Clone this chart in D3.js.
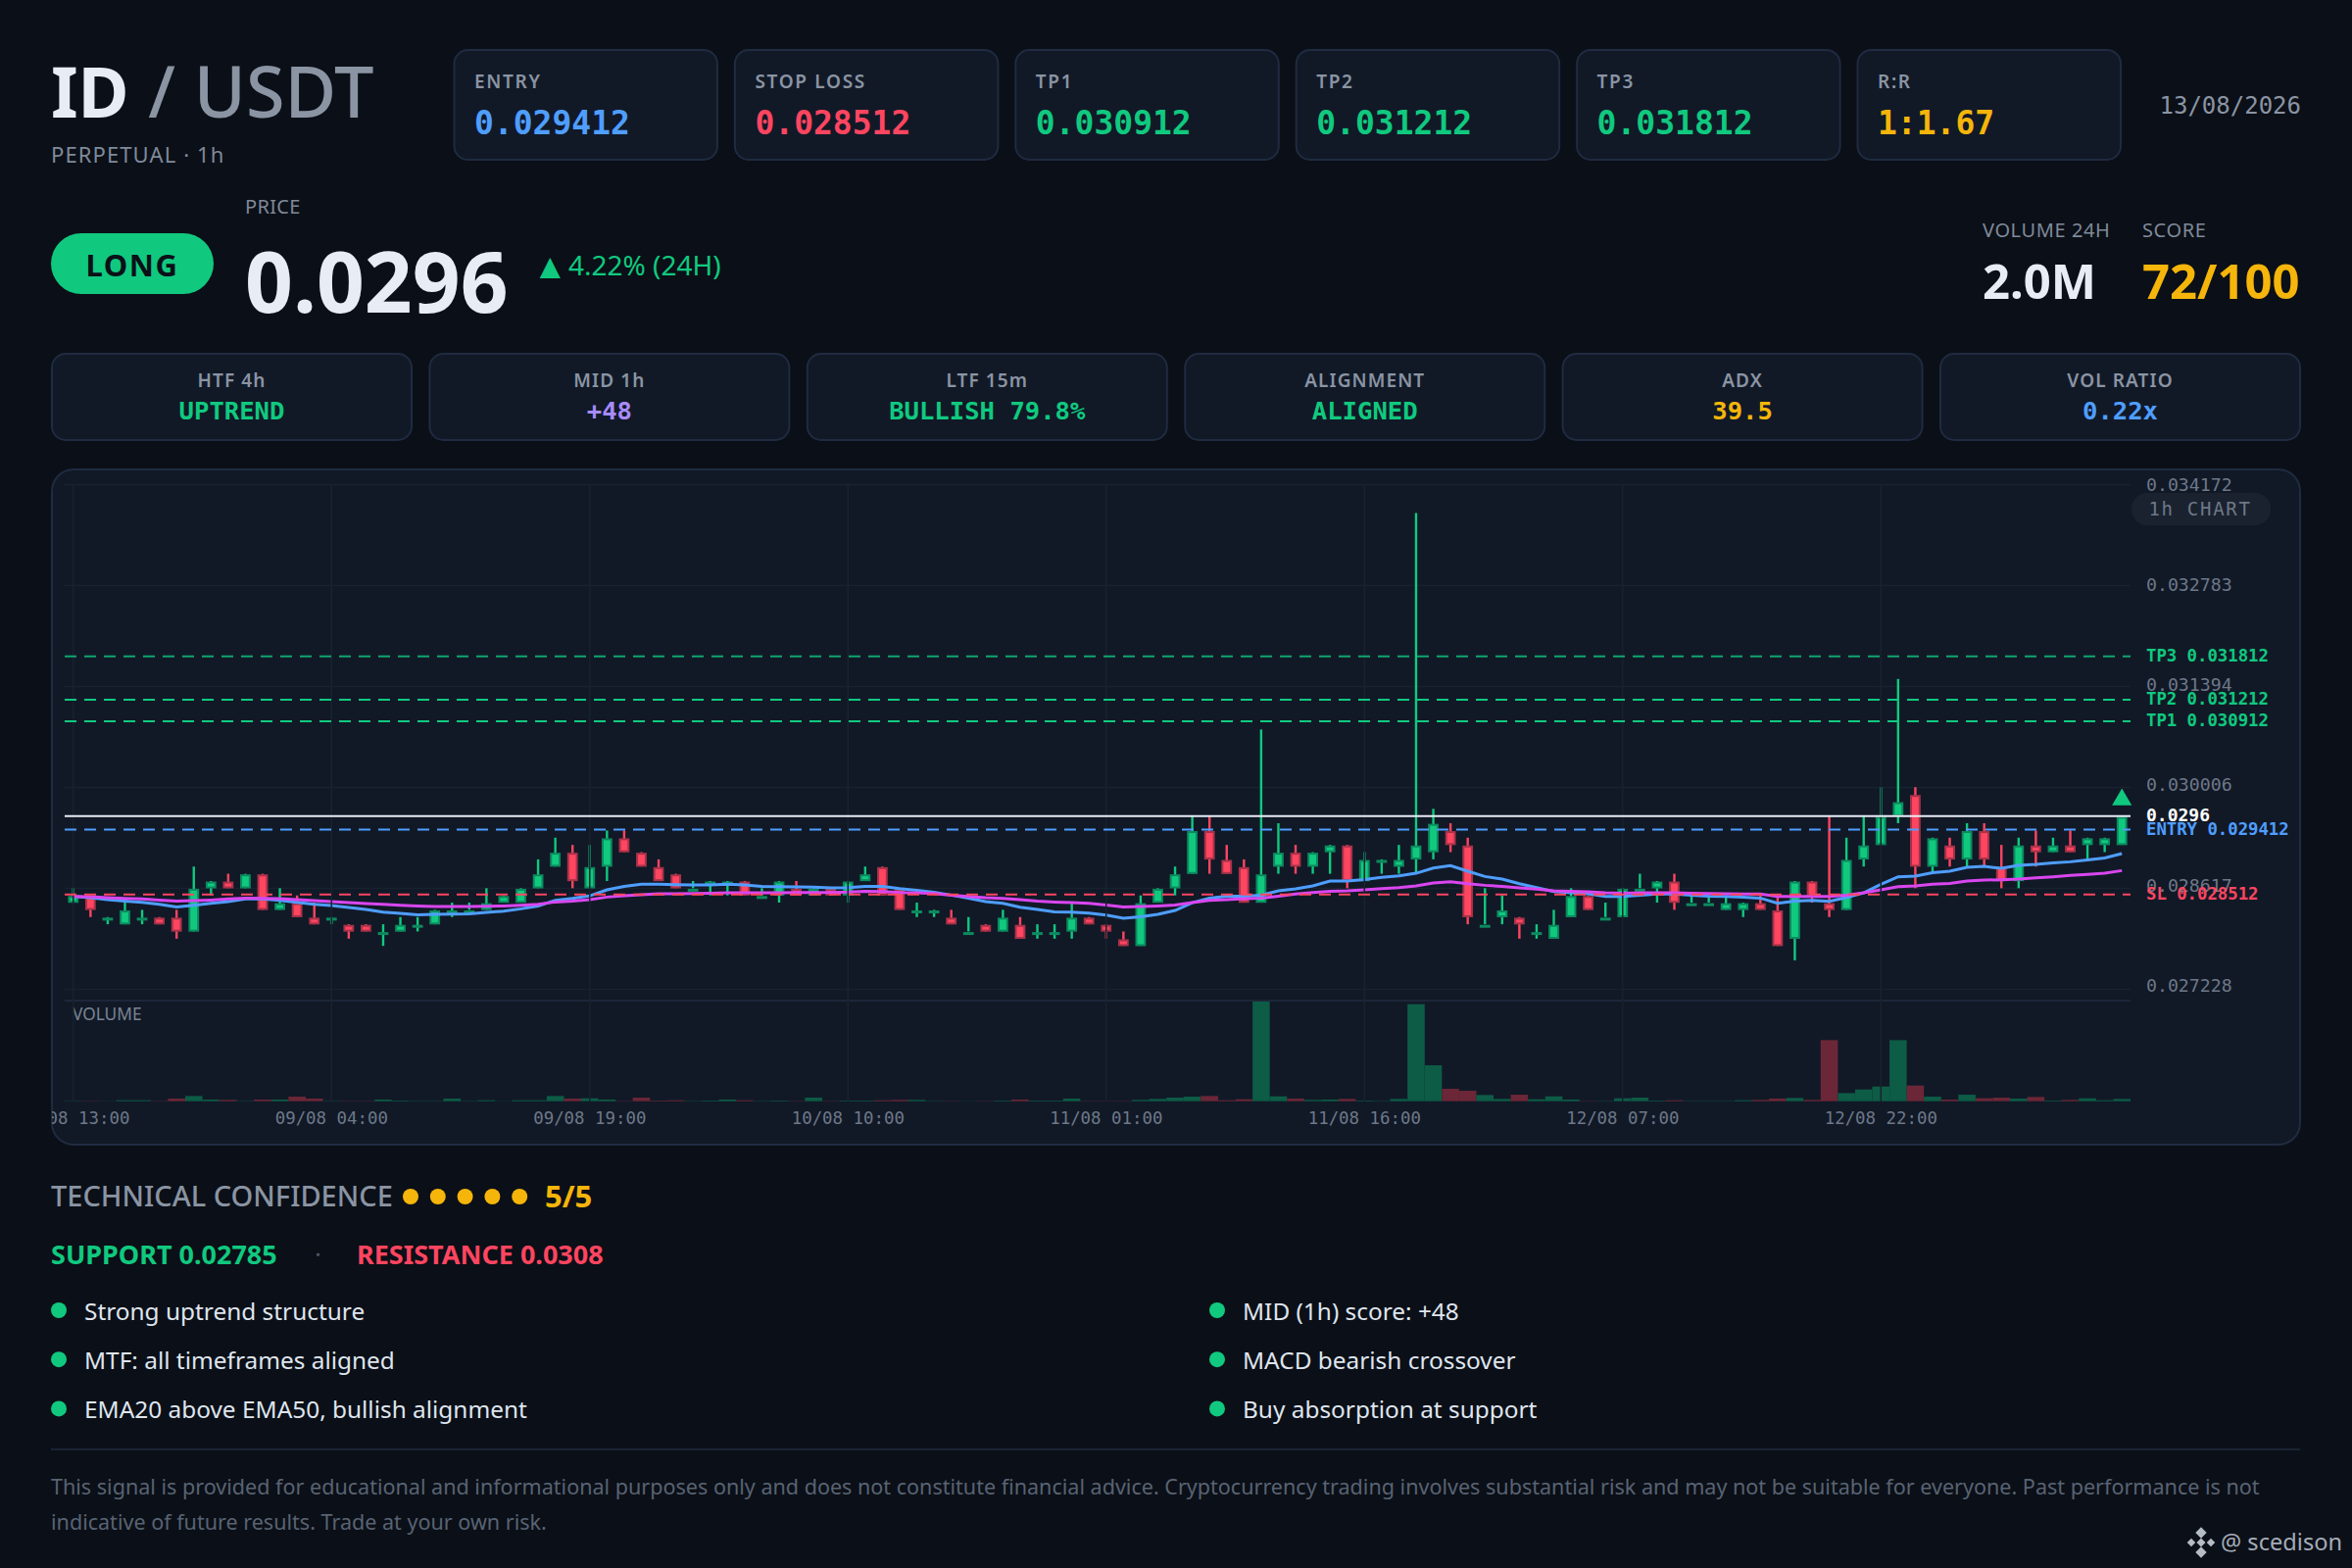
<!DOCTYPE html>
<html>
<head>
<meta charset="utf-8">
<script src="https://cdn.jsdelivr.net/npm/d3@7"></script>
<style>
  html, body { margin: 0; padding: 0; background: #0b0f17; }
  svg { display: block; }
  text { font-family: "Noto Sans", sans-serif; }
  .mono, .mono text { font-family: "DejaVu Sans Mono", monospace; }
</style>
</head>
<body>
<svg id="page" width="2400" height="1600"></svg>
<script>
// OHLC per 1h candle, in units of 0.0001 (the feed is rounded to 4 decimals)
const opens = [284,285,282,281,282,282,282,280,286,287,286,288,283,284,282,282,281,281,280,280,281,281,283,283,283,284,284,286,289,291,286,289,293,291,289,288,286,287,287,287,285,285,286,285,286,285,287,289,286,283,283,282,280,281,280,281,280,280,280,282,281,279,278,284,286,288,294,290,289,284,289,291,289,291,292,287,290,289,290,291,294,292,281,282,282,280,279,282,285,282,282,286,286,287,284,284,283,283,284,283,279,287,284,283,290,292,296,299,289,292,290,294,289,287,292,291,292,292,292,292];
const closes = [285,283,282,283,282,281,280,286,287,286,288,283,284,282,281,282,280,280,280,281,281,283,283,283,284,285,286,288,291,287,289,293,291,289,287,286,286,287,287,285,285,287,285,286,285,287,288,285,283,283,283,281,280,280,282,279,280,280,282,281,280,278,284,286,288,294,290,288,284,288,291,289,291,292,287,290,290,290,292,295,292,282,281,283,281,280,281,285,283,282,286,286,287,284,284,284,284,284,283,278,287,285,283,290,292,296,298,289,293,290,294,290,287,292,291,292,291,293,293,296];
const highs = [286,285,282,284,283,282,283,289,287,288,288,288,286,285,284,282,281,281,281,282,282,283,284,284,286,285,286,290,293,292,292,294,294,291,290,288,287,287,287,287,286,287,287,286,286,287,289,289,286,284,283,283,282,281,283,282,281,281,284,282,281,280,285,286,289,296,296,292,290,308,295,292,291,292,292,291,290,292,338,297,295,293,286,285,282,281,283,286,285,284,286,288,287,288,285,285,285,284,285,285,287,287,296,293,296,300,315,300,293,293,295,295,292,293,294,293,294,293,293,296];
const lows = [284,282,281,281,281,281,279,280,285,286,286,283,283,282,281,281,279,280,278,280,280,281,282,283,283,284,284,286,289,286,286,287,291,289,287,286,286,285,285,285,285,284,285,285,285,284,287,285,283,282,282,281,280,280,280,279,279,279,279,281,279,278,278,284,285,288,288,288,284,284,288,288,288,288,286,287,288,288,288,290,291,281,281,281,279,279,279,282,283,282,282,286,284,283,284,284,283,282,283,278,276,284,282,283,289,292,295,286,288,289,289,289,286,286,289,291,291,290,291,292];

// EMA readings, one per candle
const ema20 = [0.028486,0.028468,0.028441,0.028422,0.028404,0.028377,0.028341,0.028364,0.028391,0.028413,0.02845,0.02845,0.028432,0.028404,0.028377,0.028359,0.028332,0.028305,0.028268,0.02825,0.028232,0.028237,0.028241,0.028246,0.028264,0.028282,0.028314,0.028354,0.028432,0.028459,0.028495,0.028577,0.028626,0.028654,0.028654,0.028649,0.028645,0.028645,0.028654,0.028645,0.028626,0.028622,0.028617,0.028613,0.028604,0.028608,0.028626,0.028626,0.028595,0.028572,0.028545,0.028504,0.028463,0.028413,0.028391,0.028337,0.028305,0.028273,0.028268,0.028255,0.028228,0.028183,0.028205,0.028237,0.028291,0.0284,0.028463,0.02849,0.02849,0.028504,0.028563,0.02859,0.028631,0.028699,0.028699,0.028721,0.028749,0.028771,0.028807,0.02888,0.028912,0.028835,0.028762,0.028726,0.028663,0.028608,0.028554,0.028536,0.028522,0.028486,0.028486,0.028504,0.028518,0.028518,0.028504,0.02849,0.028486,0.028477,0.028463,0.028391,0.028422,0.028432,0.028418,0.028472,0.028536,0.028654,0.028758,0.028767,0.028816,0.028835,0.028889,0.028902,0.028875,0.028916,0.02893,0.028952,0.028966,0.028993,0.02902,0.029079];
const ema50 = [0.028486,0.028481,0.028468,0.028459,0.02845,0.028436,0.028422,0.028427,0.028436,0.02845,0.028463,0.028459,0.028454,0.028441,0.028427,0.028413,0.0284,0.028386,0.028377,0.028364,0.028354,0.028345,0.028345,0.028345,0.02835,0.028354,0.028364,0.028377,0.028409,0.028422,0.028441,0.028477,0.028495,0.028509,0.028522,0.028522,0.028527,0.028531,0.028536,0.028536,0.028536,0.028536,0.02854,0.02854,0.02854,0.028545,0.028558,0.028554,0.02854,0.028536,0.028527,0.028504,0.028486,0.028468,0.028459,0.028441,0.028422,0.028409,0.0284,0.028391,0.028368,0.028341,0.028345,0.028354,0.028368,0.0284,0.028432,0.028441,0.028454,0.028463,0.02849,0.028518,0.02854,0.028558,0.028563,0.028577,0.028595,0.028608,0.028631,0.028672,0.02869,0.028663,0.02864,0.028626,0.028604,0.028586,0.028563,0.028558,0.028549,0.028536,0.028531,0.028536,0.028536,0.028536,0.028531,0.028527,0.028522,0.028518,0.028518,0.028486,0.028486,0.028486,0.028486,0.028504,0.028536,0.028577,0.028622,0.028631,0.028654,0.028667,0.028699,0.028713,0.028717,0.028726,0.028744,0.028758,0.028776,0.02879,0.028807,0.028844];

// Volume, rough thousands
const volumes = [1,1,0.5,3,3,1,8,16,5,4,1,5,5,14,8,1,1,1,5,2,1,1,8,1,3,0.5,3,3,16,8,9,5,1,11,2,3,1,2,5,3,1,2,1,11,1,2,2,3,4,4,1,1,0.5,1,2,5,2,2,8,1,1,1,4,7,11,14,16,3,6,305,15,8,4,5,7,2,1,7,297,110,38,32,19,7,20,6,15,5,1,1,9,11,2,3,1,1,1,3,4,8,10,4,187,25,36,45,187,48,14,5,20,9,11,8,13,2,4,9,3,7];

const priceTicks = [0.034172, 0.032783, 0.031394, 0.030006, 0.028617, 0.027228];
const tickIndex = [0, 15, 30, 45, 60, 75, 90, 105];
const tickLabels = ["08/08 13:00", "09/08 04:00", "09/08 19:00", "10/08 10:00", "11/08 01:00", "11/08 16:00", "12/08 07:00", "12/08 22:00"];

const levelNames = ["TP3", "TP2", "TP1", "ENTRY", "SL"];
const levelValues = [0.031812, 0.031212, 0.030912, 0.029412, 0.028512];
const lastPrice = 0.0296;

const topLabels = ["ENTRY", "STOP LOSS", "TP1", "TP2", "TP3", "R:R"];
const topValues = ["0.029412", "0.028512", "0.030912", "0.031212", "0.031812", "1:1.67"];
const statLabels = ["HTF 4h", "MID 1h", "LTF 15m", "ALIGNMENT", "ADX", "VOL RATIO"];
const statValues = ["UPTREND", "+48", "BULLISH 79.8%", "ALIGNED", "39.5", "0.22x"];
const leftNotes = ["Strong uptrend structure", "MTF: all timeframes aligned", "EMA20 above EMA50, bullish alignment"];
const rightNotes = ["MID (1h) score: +48", "MACD bearish crossover", "Buy absorption at support"];

// colors
const GREEN = "#10c97f", RED = "#ff4560", BLUE = "#4f9eff", AMBER = "#f5b50a", PURPLE = "#a78bfa";
const WHITE = "#e8edf5", GRAY = "#8a94a3", PANEL = "#111927", EDGE = "#1f2b40";
const colorFor = { TP3: GREEN, TP2: GREEN, TP1: GREEN, ENTRY: BLUE, SL: RED };
const topColors = [BLUE, RED, GREEN, GREEN, GREEN, AMBER];
const statColors = [GREEN, PURPLE, GREEN, GREEN, AMBER, BLUE];

const svg = d3.select("#page");
svg.append("rect").attr("width", 2400).attr("height", 1600).attr("fill", "#0b0f17");

function label(parent, x, y, str, size, fill, opts = {}) {
    return parent.append("text")
        .attr("x", x).attr("y", y)
        .attr("dominant-baseline", "central")
        .attr("text-anchor", opts.anchor || "start")
        .attr("class", opts.mono ? "mono" : null)
        .attr("font-size", size)
        .attr("font-weight", opts.weight || 400)
        .attr("letter-spacing", opts.spacing || 0)
        .attr("fill", fill)
        .text(str);
}

function card(x, y, w, h, r) {
    svg.append("rect")
        .attr("x", x).attr("y", y).attr("width", w).attr("height", h)
        .attr("rx", r).attr("fill", PANEL).attr("stroke", EDGE).attr("stroke-width", 2);
}

// --- header ---
const title = label(svg, 52, 92, "ID", 71, WHITE, { weight: 700 });
title.append("tspan").attr("fill", GRAY).attr("font-weight", 500).attr("font-size", 72).attr("dx", 1).text(" / USDT");
label(svg, 52, 157, "PERPETUAL · 1h", 22, "#7f8a9a", { spacing: 1.1 });

topLabels.forEach((t, i) => {
    const x = 463.5 + i * 286.4;
    card(x, 51, 268.5, 112, 14);
    label(svg, x + 20.5, 83, t, 19, GRAY, { weight: 600, spacing: 1.7 });
    label(svg, x + 20.5, 125, topValues[i], 33, topColors[i], { mono: true, weight: 700 });
});
label(svg, 2348, 108, "13/08/2026", 24, GRAY, { mono: true, anchor: "end" });

label(svg, 250, 210, "PRICE", 20, "#7f8a9a", { spacing: 0.3 });
svg.append("rect").attr("x", 52).attr("y", 238).attr("width", 166).attr("height", 62).attr("rx", 31).attr("fill", GREEN);
label(svg, 135, 270, "LONG", 31, "#0b1018", { anchor: "middle", weight: 700, spacing: 1.5 });
label(svg, 250, 286, "0.0296", 85.5, WHITE, { weight: 700 });
label(svg, 543.5, 270, "▲", 36, GREEN);
label(svg, 580, 270, "4.22% (24H)", 28, GREEN);

label(svg, 2023, 234, "VOLUME 24H", 20, "#7f8a9a", { spacing: 0.6 });
label(svg, 2186, 234, "SCORE", 20, "#7f8a9a", { spacing: 0.6 });
label(svg, 2023, 285.5, "2.0M", 49, WHITE, { weight: 700 });
label(svg, 2186, 285.5, "72/100", 49, AMBER, { weight: 700 });

statLabels.forEach((t, i) => {
    const x = 53 + i * 385.4;
    card(x, 361, 367, 88, 14);
    label(svg, x + 183.5, 388, t, 19, GRAY, { anchor: "middle", weight: 600, spacing: 1.1 });
    label(svg, x + 183.5, 419, statValues[i], 25.6, statColors[i], { anchor: "middle", mono: true, weight: 700 });
});

// --- chart panel ---
card(53, 479, 2294, 689, 22);
svg.append("clipPath").attr("id", "panelClip").append("rect")
    .attr("x", 53).attr("y", 479).attr("width", 2294).attr("height", 689).attr("rx", 22);
const chart = svg.append("g").attr("clip-path", "url(#panelClip)");

const n = opens.length;
const pip = v => v / 10000;
const x = d3.scaleBand().domain(d3.range(n)).range([66, 2174]);
const mid = i => x(i) + x.bandwidth() / 2;
const y = d3.scaleLinear().domain([0.0296, 0.028512]).range([832.7, 912.8]);
// grid rows are evenly spread over the plot, a little off the price scale
const gridY = d3.scaleLinear().domain([0.027228, 0.034172]).range([1009.5, 494.5]);
const yVol = d3.scaleLinear().domain([0, d3.max(volumes)]).range([1123.7, 1022]);

// horizontal grid, behind the candles
chart.append("g").selectAll("line").data(priceTicks).join("line")
    .attr("x1", 66).attr("x2", 2174)
    .attr("y1", d => gridY(d)).attr("y2", d => gridY(d))
    .attr("stroke", "#18232f").attr("stroke-width", 1.5);
chart.append("line").attr("x1", 66).attr("x2", 2174).attr("y1", 1021).attr("y2", 1021)
    .attr("stroke", "#1c2738").attr("stroke-width", 2);

label(chart, 74, 1034, "VOLUME", 17.3, "#7a8494");

// volume
chart.append("g").selectAll("rect").data(volumes).join("rect")
    .attr("x", (d, i) => x(i))
    .attr("width", x.bandwidth())
    .attr("y", d => yVol(d))
    .attr("height", d => yVol(0) - yVol(d))
    .attr("fill", (d, i) => closes[i] >= opens[i] ? "#0d5c45" : "#6b2737");

// candles
const candles = chart.append("g").selectAll("g").data(d3.range(n)).join("g");
const up = i => closes[i] >= opens[i];
candles.append("line")
    .attr("x1", mid).attr("x2", mid)
    .attr("y1", i => y(pip(highs[i]))).attr("y2", i => y(pip(lows[i])))
    .attr("stroke", i => up(i) ? GREEN : RED).attr("stroke-width", 2.4);
candles.append("rect")
    .attr("x", i => mid(i) - 4.4)
    .attr("width", 8.8)
    .attr("y", i => y(pip(Math.max(opens[i], closes[i]))) + 1.6)
    .attr("height", i => Math.max(Math.abs(y(pip(opens[i])) - y(pip(closes[i]))) - 2.4, 1))
    .attr("fill", i => up(i) ? GREEN : RED)
    .attr("stroke", i => up(i) ? "#0c8a5e" : "#a83249")
    .attr("stroke-width", 2);

// EMA lines
const emaLine = d3.line().x((d, i) => mid(i)).y(d => y(d));
[[ema20, BLUE], [ema50, "#d946ef"]].forEach(([vals, color]) => {
    chart.append("path").attr("d", emaLine(vals))
        .attr("fill", "none").attr("stroke", color).attr("stroke-width", 3);
});

// vertical grid goes over the candles
chart.append("g").selectAll("line").data(tickIndex).join("line")
    .attr("x1", mid).attr("x2", mid).attr("y1", 494).attr("y2", 1124)
    .attr("stroke", "#18232f").attr("stroke-width", 1.5);

// price levels
levelNames.forEach((name, i) => {
    chart.append("line")
        .attr("x1", 66).attr("x2", 2174)
        .attr("y1", y(levelValues[i])).attr("y2", y(levelValues[i]))
        .attr("stroke", colorFor[name]).attr("stroke-width", 2)
        .attr("stroke-dasharray", "12 8")
        .attr("opacity", name === "TP3" ? 0.8 : 1);
});
chart.append("line").attr("x1", 66).attr("x2", 2174)
    .attr("y1", y(lastPrice)).attr("y2", y(lastPrice))
    .attr("stroke", WHITE).attr("stroke-width", 2);

// last-candle marker
chart.append("path")
    .attr("d", d3.symbol(d3.symbolTriangle, 175))
    .attr("transform", `translate(${mid(n - 1)},816)`)
    .attr("fill", GREEN);

// axes
const yAxis = d3.axisRight(y).tickValues(priceTicks).tickSize(0).tickPadding(0).tickFormat(d3.format(".6f"));
chart.append("g").attr("class", "mono").attr("transform", "translate(2190,-1.7)").call(yAxis)
    .call(g => g.select(".domain").remove())
    .call(g => g.selectAll("text").attr("font-size", 18.2).attr("fill", "#6e7887"));

const xAxis = d3.axisBottom(x).tickValues(tickIndex).tickSize(0).tickPadding(0)
    .tickFormat(i => tickLabels[tickIndex.indexOf(i)]);
chart.append("g").attr("class", "mono").attr("transform", "translate(0,1134.5)").call(xAxis)
    .call(g => g.select(".domain").remove())
    .call(g => g.selectAll("text").attr("font-size", 17.4).attr("fill", "#6e7887"));

// badge and level labels
chart.append("rect").attr("x", 2175).attr("y", 503).attr("width", 142).attr("height", 33).attr("rx", 16).attr("fill", "#1a2230");
label(chart, 2245, 519, "1h CHART", 19, "#6e7887", { mono: true, anchor: "middle", spacing: 1.7 });
levelNames.forEach((name, i) => {
    label(chart, 2190, y(levelValues[i]) - 1, `${name} ${levelValues[i].toFixed(6)}`, 17.3, colorFor[name], { mono: true, weight: 700 });
});
label(chart, 2190, y(lastPrice) - 1.5, "0.0296", 18, "#ffffff", { mono: true, weight: 700 });

// --- lower section ---
label(svg, 52, 1219.5, "TECHNICAL CONFIDENCE", 29, GRAY, { weight: 500 });
svg.append("g").selectAll("circle").data(d3.range(5)).join("circle")
    .attr("cx", d => 419 + d * 27.8).attr("cy", 1221).attr("r", 8).attr("fill", AMBER);
label(svg, 556, 1219.5, "5/5", 31, AMBER, { weight: 700 });

label(svg, 52, 1279, "SUPPORT 0.02785", 27, GREEN, { weight: 700 });
label(svg, 321, 1279, "·", 26, "#4a5566");
label(svg, 364, 1279, "RESISTANCE 0.0308", 27, RED, { weight: 700 });

[[leftNotes, 60, 86], [rightNotes, 1242, 1268]].forEach(([notes, dotX, textX]) => {
    notes.forEach((t, i) => {
        const rowY = 1337 + i * 50.2;
        svg.append("circle").attr("cx", dotX).attr("cy", rowY).attr("r", 8).attr("fill", GREEN);
        label(svg, textX, rowY, t, 24.4, "#dfe5ee");
    });
});

svg.append("line").attr("x1", 52).attr("x2", 2347).attr("y1", 1479).attr("y2", 1479)
    .attr("stroke", "#1a2333").attr("stroke-width", 2);

label(svg, 52, 1516, "This signal is provided for educational and informational purposes only and does not constitute financial advice. Cryptocurrency trading involves substantial risk and may not be suitable for everyone. Past performance is not", 21.55, "#586373");
label(svg, 52, 1552, "indicative of future results. Trade at your own risk.", 21.55, "#586373");

// watermark
const mark = svg.append("g").attr("transform", "translate(2246,1574)").attr("fill", "#b5bcc6");
[[0, -10, 4], [-10, 0, 3], [10, 0, 3], [0, 10, 4], [0, 0, 3.2]].forEach(([dx, dy, s]) => {
    mark.append("rect").attr("x", -s).attr("y", -s).attr("width", s * 2).attr("height", s * 2)
        .attr("transform", `translate(${dx},${dy}) rotate(45)`);
});
label(svg, 2266, 1573, "@ scedison", 23.6, "#a3acb8");
</script>
</body>
</html>
